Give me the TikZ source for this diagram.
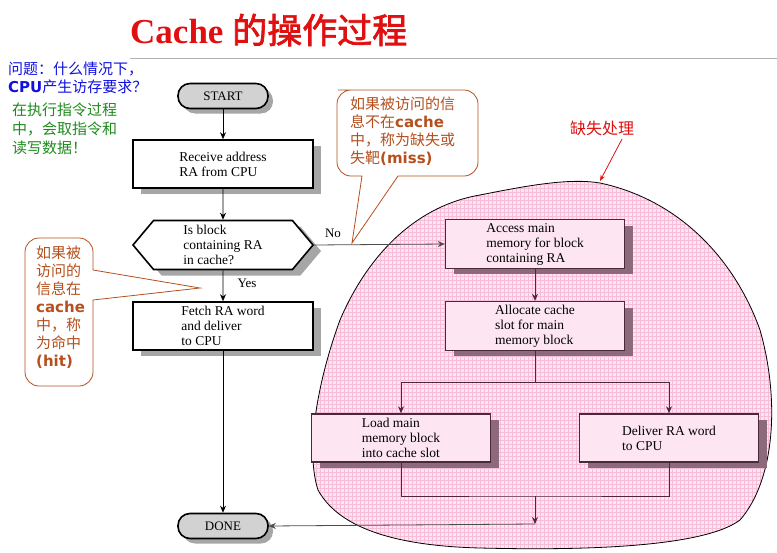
\documentclass[tikz,border=0pt]{standalone}
\usepackage{fontspec}
\setmainfont{Liberation Serif}
\newfontfamily\cjk{Noto Sans CJK SC}[AutoFakeBold=2]
\newfontfamily\vsans{DejaVu Sans}
\usetikzlibrary{shapes.symbols,shadows,arrows.meta}
\definecolor{brn}{HTML}{B5501E}
\definecolor{grn}{HTML}{1E8A1E}
\definecolor{blu}{HTML}{1010E0}
\definecolor{ttl}{HTML}{E01010}
\definecolor{mar}{HTML}{4A2A38}
\definecolor{mshd}{HTML}{8C6A7C}
\definecolor{pk}{HTML}{FDE6F1}
\definecolor{pkg}{HTML}{F6BCD8}
\begin{document}
\begin{tikzpicture}[x=1pt,y=-1pt,
  box/.style={draw,line width=1.6pt,fill=white,minimum width=180pt,minimum height=48pt,align=left,font=\fontsize{13.5}{15}\selectfont,
    drop shadow={shadow xshift=8pt,shadow yshift=-6pt,fill=gray!70,opacity=1}},
  pbox/.style={draw=mar,line width=1.4pt,minimum width=179pt,minimum height=48pt,align=left,font=\fontsize{13.5}{15}\selectfont,
    drop shadow={shadow xshift=8pt,shadow yshift=-6pt,fill=mshd,opacity=1},fill=pk},
  term/.style={draw,line width=1.6pt,fill=gray!35,rounded corners=12pt,minimum width=90pt,minimum height=25pt,font=\fontsize{13}{13}\selectfont,
    drop shadow={shadow xshift=5pt,shadow yshift=-5pt,fill=gray!70,opacity=1}},
  arr/.style={-{Stealth[length=7pt,width=6pt]},line width=0.8pt},
  parr/.style={-{Stealth[length=7pt,width=6pt]},line width=0.8pt,draw=mar},
  call/.style={draw=brn,line width=0.8pt,fill=white},
  ctext/.style={text=brn,align=left,font=\cjk\fontsize{15}{18}\selectfont,inner sep=0pt},
  lab/.style={font=\fontsize{13}{13}\selectfont}]
\useasboundingbox (0,0) rectangle (777,552);
% title
\node[anchor=west,text=ttl,inner sep=0pt] (title) at (130,30) {\fontsize{35}{35}\selectfont\bfseries Cache \cjk 的操作过程};
\draw[gray!60,line width=0.8pt] (130,58) -- (777,58);
\node[anchor=north west,text=blu,align=left,inner sep=0pt,font=\cjk\fontsize{15}{18}\selectfont] (q) at (8,62) {问题：什么情况下，\\{\vsans\bfseries CPU}产生访存要求？};
\node[anchor=north west,text=grn,align=left,inner sep=0pt,font=\cjk\fontsize{15}{19}\selectfont] (g) at (12,103) {在执行指令过程\\中，会取指令和\\读写数据！};
% blob
\def\blob{(600,183) .. controls (680,200) and (735,260) .. (760,330)
  .. controls (780,400) and (775,480) .. (740,520)
  .. controls (700,550) and (560,550) .. (480,548)
  .. controls (400,546) and (340,530) .. (318,490)
  .. controls (305,450) and (318,380) .. (340,320)
  .. controls (370,250) and (420,205) .. (480,195)
  .. controls (530,185) and (570,178) .. (600,183) -- cycle}
\begin{scope}
\path[clip] \blob;
\fill[pk] (300,170) rectangle (777,552);
\foreach \i in {172,176,...,552} \draw[pkg,line width=0.2pt] (300,\i) -- (777,\i);
\foreach \i in {300,304,...,777} \draw[pkg,line width=0.2pt] (\i,170) -- (\i,552);
\end{scope}
\draw[line width=0.8pt] \blob;
\node[text=ttl,font=\cjk\fontsize{16}{16}\selectfont,anchor=west,inner sep=0pt] (qs) at (570,128) {缺失处理};
\coordinate (qt) at (600,181);
\draw[ttl,line width=0.8pt,-{Stealth[length=6pt]}] (622,139) -- (qt);
% left flow
\node[term] (start) at (223,96) {START};
\node[box] (recv) at (223,164) {Receive address\\RA from CPU};
\node[draw,line width=1.6pt,fill=white,signal,signal to=west and east,signal pointer angle=100,minimum width=180pt,minimum height=49pt,inner xsep=2pt,align=left,font=\fontsize{13.5}{15}\selectfont,
  drop shadow={shadow xshift=8pt,shadow yshift=-6pt,fill=gray!70,opacity=1}] (dec) at (223,245) {Is block\\containing RA\\in cache?};
\node[box] (fetch) at (223,326) {Fetch RA word\\and deliver\\to CPU};
\node[term] (done) at (223,526) {DONE};
\draw[arr] (start) -- (recv);
\draw[arr] (recv) -- (dec);
\draw[arr] (dec) -- (fetch);
\draw[arr] (fetch) -- (done);
\node[lab] (yes) at (247,283) {Yes};
\node[lab] (no) at (333,233) {No};
% right flow
\node[pbox] (acc) at (535,244) {Access main\\memory for block\\containing RA};
\node[pbox] (alloc) at (535,326) {Allocate cache\\slot for main\\memory block};
\node[pbox] (load) at (401,438) {Load main\\memory block\\into cache slot};
\node[pbox] (deliv) at (669,438) {Deliver RA word\\to CPU};
\draw[arr,draw=black!70] (dec.east) -- (acc.west);
\draw[parr] (acc) -- (alloc);
\coordinate (sp) at (535,382);
\coordinate (mg) at (535,496);
\coordinate (jn) at (535,524);
\draw[line width=0.8pt,draw=mar] (alloc.south) -- (sp);
\draw[parr] (sp) -| (load.north);
\draw[parr] (sp) -| (deliv.north);
\draw[line width=0.8pt,draw=mar] (load.south) |- (mg) -| (deliv.south);
\draw[parr] (mg) -- (jn);
\draw[arr,draw=black!70] (jn) -- (done.east);
% callouts
\draw[call] [rounded corners=14pt] (352,90) -- (478,90) -- (478,176) [sharp corners] -- (398,176) -- (352,243) -- (362,176) [rounded corners=14pt] -- (337,176) -- (337,90) -- cycle;
\node[ctext,anchor=north west] (c1) at (350,97) {如果被访问的信\\息不在{\vsans\bfseries cache}\\中，称为缺失或\\失靶{\vsans\bfseries (miss)}};
\draw[call] [rounded corners=14pt] (25,238) -- (93,238) [sharp corners] -- (93,270) -- (200,288) -- (93,300) [rounded corners=14pt] -- (93,386) -- (25,386) -- cycle;
\node[ctext,anchor=north west] (c2) at (36,246) {如果被\\访问的\\信息在\\{\vsans\bfseries cache}\\中，称\\为命中\\{\vsans\bfseries (hit)}};
\end{tikzpicture}
\end{document}
